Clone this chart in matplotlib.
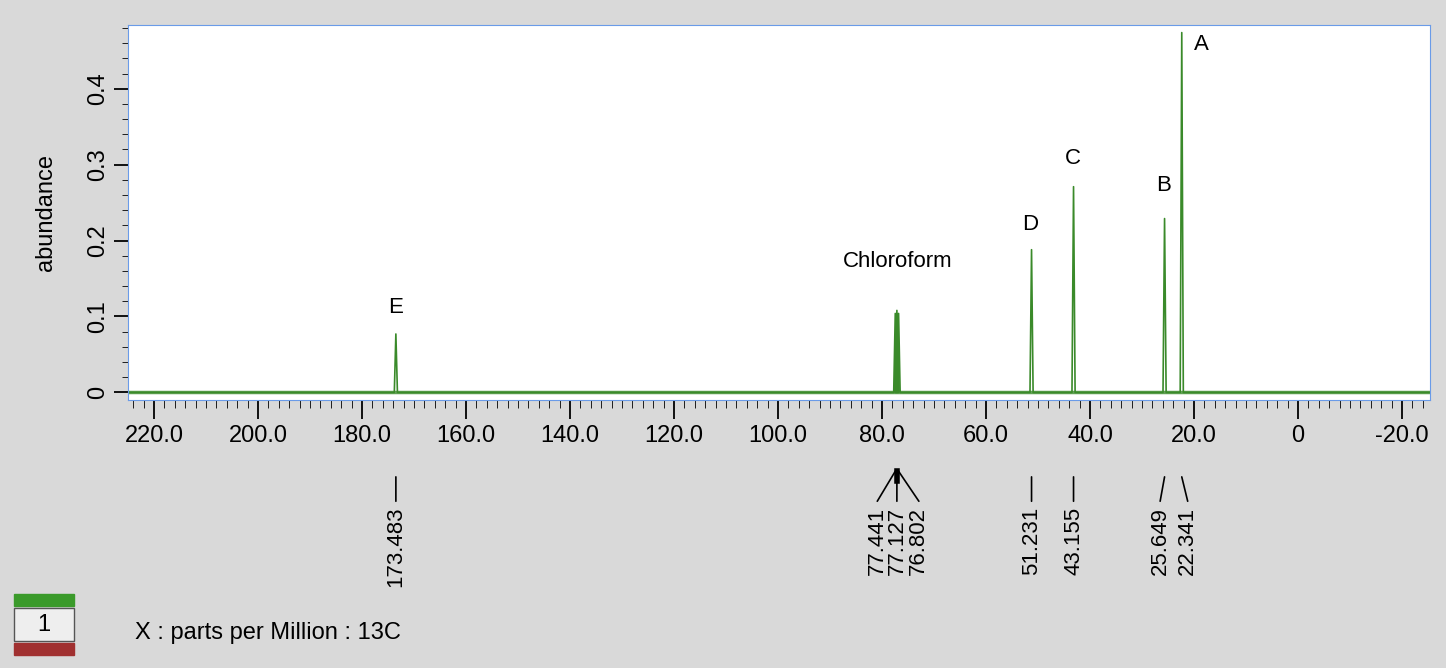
import matplotlib
matplotlib.use("Agg")
import matplotlib.pyplot as plt
from matplotlib.ticker import MultipleLocator, FuncFormatter
import matplotlib.patches as mp

plt.rcParams['font.family'] = ['Liberation Sans', 'DejaVu Sans']

peak_ppm = [173.483, 77.441, 77.127, 76.802, 51.231, 43.155, 25.649, 22.341]
peak_height = [0.077, 0.104, 0.108, 0.104, 0.188, 0.271, 0.229, 0.474]
peak_labels = ["173.483", "77.441", "77.127", "76.802", "51.231", "43.155", "25.649", "22.341"]
names = ["E", "Chloroform", "D", "C", "B", "A"]
name_pos = [(173.5, 0.098), (77.0, 0.158), (51.5, 0.208), (43.2, 0.294), (25.8, 0.259), (18.5, 0.445)]

fig = plt.figure(figsize=(14.46, 6.68), dpi=100, facecolor="#d9d9d9")
ax = fig.add_axes([128/1446, 1-400/668, 1302/1446, 375/668])
ax.set_facecolor("white")

xs, ys = [225.0], [0.0]
for p, h in sorted(zip(peak_ppm, peak_height), reverse=True):
    xs += [p + 0.3, p, p - 0.3]
    ys += [0.0, h, 0.0]
xs.append(-25.4); ys.append(0.0)
ax.plot(xs, ys, color="#3a8a2a", lw=1.2)
ax.plot([225, -25.4], [0.001, 0.001], color="#3a8a2a", lw=2.5, alpha=0.8)

ax.set_xlim(225, -25.4)
ax.set_ylim(-0.01, 0.484)
for s in ax.spines.values():
    s.set_color("#6a9be8")
ax.xaxis.set_major_locator(MultipleLocator(20))
ax.xaxis.set_minor_locator(MultipleLocator(2))
ax.xaxis.set_major_formatter(FuncFormatter(lambda v, p: "0" if abs(v) < 1e-9 else f"{v:.1f}"))
ax.yaxis.set_major_locator(MultipleLocator(0.1))
ax.yaxis.set_minor_locator(MultipleLocator(0.02))
ax.yaxis.set_major_formatter(FuncFormatter(lambda v, p: "0" if abs(v) < 1e-9 else f"{v:.1f}"))
ax.tick_params(axis="x", which="major", length=14, width=1.3, labelsize=17, pad=4)
ax.tick_params(axis="x", which="minor", length=6)
ax.tick_params(axis="y", which="major", length=10, width=1.3, labelsize=17, labelrotation=90)
ax.tick_params(axis="y", which="minor", length=4)
for t in ax.get_yticklabels():
    t.set_va("center")
ax.set_ylabel("abundance", fontsize=17, labelpad=22)

for n, (x, y) in zip(names, name_pos):
    ax.text(x, y, n, fontsize=16, ha="center", va="bottom")

label_x = {"173.483": 173.483, "77.441": 80.9, "77.127": 77.13, "76.802": 72.9,
           "51.231": 51.231, "43.155": 43.155, "25.649": 26.5, "22.341": 21.2}
for lab, p in zip(peak_labels, peak_ppm):
    lx = label_x[lab]
    top = -0.19 if lab in ("77.441", "77.127", "76.802") else -0.205
    ax.annotate("", xy=(p, top), xytext=(lx, -0.27), xycoords=("data", "axes fraction"),
                textcoords=("data", "axes fraction"),
                arrowprops=dict(arrowstyle="-", color="black", lw=1.2, shrinkA=0, shrinkB=0))
    ax.text(lx, -0.285, lab, rotation=90, ha="center", va="top", fontsize=16,
            transform=ax.get_xaxis_transform())
ax.plot([77.13, 77.13], [-0.19, -0.215], color="black", lw=4, transform=ax.get_xaxis_transform(), clip_on=False)

fig.text(135/1446, 1-633/668, "X : parts per Million : 13C", fontsize=17, va="center")
fig.patches.append(mp.Rectangle((14/1446, 1-606/668), 60/1446, 12/668, color="#3a9a2a", transform=fig.transFigure))
fig.patches.append(mp.Rectangle((14/1446, 1-641/668), 60/1446, 33/668, facecolor="#eeeeee", edgecolor="#555555", transform=fig.transFigure))
fig.patches.append(mp.Rectangle((14/1446, 1-655/668), 60/1446, 12/668, color="#a03030", transform=fig.transFigure))
fig.text(44/1446, 1-625/668, "1", fontsize=17, ha="center", va="center")

fig.savefig("out.png", dpi=100, facecolor=fig.get_facecolor())
